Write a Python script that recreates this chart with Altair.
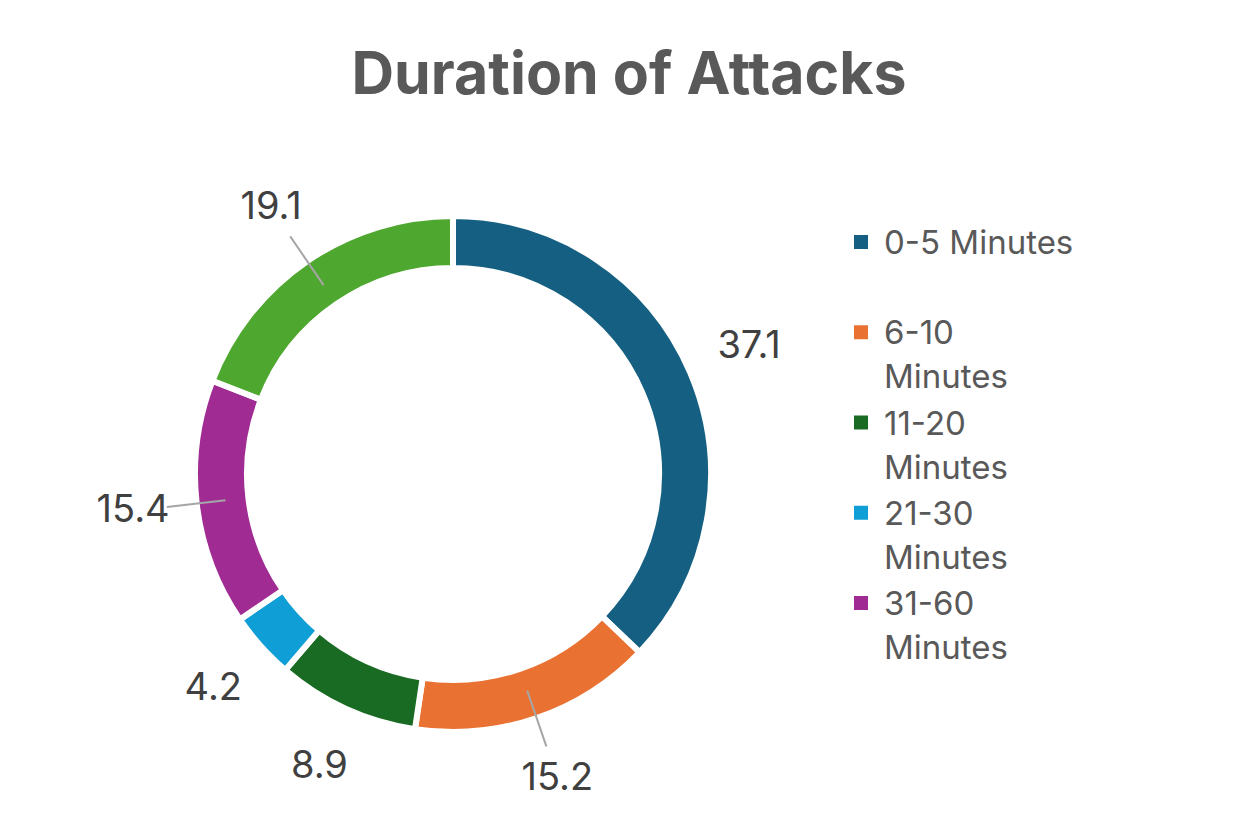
import math
import altair as alt
import pandas as pd

# ---- data ----
categories = ["0-5 Minutes", "6-10 Minutes", "11-20 Minutes", "21-30 Minutes",
              "31-60 Minutes", "Over 60 Minutes"]
values = [37.1, 15.2, 8.9, 4.2, 15.4, 19.1]
colors = ["#156082", "#E97132", "#196B24", "#0F9ED5", "#A02B93", "#4EA72E"]
has_leader = [False, True, False, False, True, True]
legend_cats = categories[:5]

df = pd.DataFrame({"cat": categories, "value": values,
                   "idx": list(range(len(categories))), "leader": has_leader})
leg_df = pd.DataFrame({
    "cat": legend_cats,
    "label": [c if len(c) <= 11 else c.replace(" ", "\n") for c in legend_cats],
})

total = sum(values)
FONT = "Inter"
CX, CY = 445, 346

theta_scale = alt.Scale(domain=[0, total], range=[0, 2 * math.pi])
color_scale = alt.Scale(domain=categories, range=colors)

base = alt.Chart(df)

arcs = base.mark_arc(innerRadius=206, outerRadius=258, stroke="white", strokeWidth=6).encode(
    theta=alt.Theta("value:Q", stack=True, scale=theta_scale),
    order=alt.Order("idx:Q"),
    color=alt.Color("cat:N", scale=color_scale, legend=None),
    x=alt.value(CX), y=alt.value(CY),
)

leaders = base.transform_window(
    cum="sum(value)", sort=[alt.SortField("idx")], frame=[None, 0]
).transform_calculate(
    mid="datum.cum - datum.value / 2"
).transform_filter("datum.leader").mark_arc(
    innerRadius=229, outerRadius=288, stroke="#A6A6A6", strokeWidth=2, fillOpacity=0
).encode(
    theta=alt.Theta("mid:Q", scale=theta_scale),
    theta2=alt.Theta2("mid"),
    x=alt.value(CX), y=alt.value(CY),
)

labels = base.mark_text(radius=322, fontSize=38, font=FONT, color="#404040").encode(
    theta=alt.Theta("value:Q", stack=True, scale=theta_scale),
    order=alt.Order("idx:Q"),
    text=alt.Text("value:Q", format=".1f"),
    x=alt.value(CX), y=alt.value(CY),
)

leg_y = alt.Y("cat:N", scale=alt.Scale(domain=legend_cats, range=[114, 475], padding=0), axis=None)
leg_base = alt.Chart(leg_df)
leg_sq = leg_base.mark_square(size=196, opacity=1).encode(
    x=alt.value(853), y=leg_y,
    color=alt.Color("cat:N", scale=color_scale, legend=None),
)
leg_txt = leg_base.mark_text(align="left", baseline="alphabetic", dy=12, fontSize=33,
                             font=FONT, lineBreak="\n", lineHeight=44, color="#595959").encode(
    x=alt.value(876), y=leg_y, text="label:N",
)

chart = alt.layer(arcs, leaders, labels, leg_sq, leg_txt).properties(
    width=1242, height=696,
    autosize="none",
    padding={"top": 120, "left": 0, "right": 0, "bottom": 0},
    title=alt.TitleParams("Duration of Attacks", fontSize=59, font=FONT, fontWeight="bold",
                          color="#595959", anchor="middle", offset=22),
).configure_view(stroke=None)

chart.save("out.html", embed_options={"renderer": "svg", "actions": False})
